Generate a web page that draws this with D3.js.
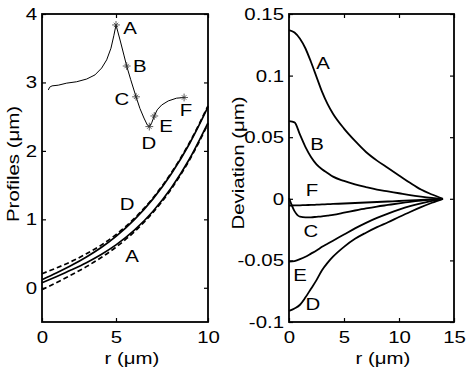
<!DOCTYPE html>
<html><head><meta charset="utf-8">
<script src="https://cdn.jsdelivr.net/npm/d3@7"></script>
<style>
body{margin:0;background:#fff}
text{font-family:"Liberation Sans",Arial,Helvetica,sans-serif;fill:#000}
</style></head><body>
<svg id="fig" width="474" height="370"></svg>
<script>
// left panel: profiles
var profR = [0, 1, 2, 3, 4, 5, 6, 7, 8, 9, 10];
var profDsolid = [0.117, 0.219, 0.328, 0.45, 0.588, 0.752, 0.996, 1.295, 1.663, 2.108, 2.642];
var profAsolid = [0.073, 0.166, 0.263, 0.367, 0.486, 0.626, 0.841, 1.114, 1.457, 1.885, 2.409];
var profDdash = [0.205, 0.292, 0.386, 0.497, 0.623, 0.777, 1.014, 1.31, 1.678, 2.123, 2.657];
var profAdash = [-0.029, 0.078, 0.19, 0.309, 0.442, 0.594, 0.819, 1.098, 1.442, 1.87, 2.394];

// inset curve with marked points
var insetR = [0.43, 0.51, 0.68, 1.10, 1.67, 2.34, 3.02, 3.58, 4.03, 4.37, 4.66, 4.86, 5.0, 5.22, 5.43, 5.58, 5.80, 6.09, 6.30, 6.52, 6.70, 6.81, 6.94, 7.08, 7.24, 7.48, 7.84, 8.29, 8.70];
var insetZ = [2.89, 2.93, 2.95, 2.96, 2.99, 3.01, 3.05, 3.11, 3.21, 3.33, 3.50, 3.69, 3.84, 3.62, 3.40, 3.24, 3.04, 2.79, 2.62, 2.48, 2.38, 2.355, 2.41, 2.51, 2.60, 2.67, 2.73, 2.77, 2.78];
var markNames = ["A", "B", "C", "D", "E", "F"];
var markR = [5.0, 5.58, 6.09, 6.81, 7.08, 8.70];
var markZ = [3.84, 3.24, 2.79, 2.355, 2.51, 2.78];

// right panel: deviations
var devR = [0, 0.5, 1, 1.5, 2, 2.5, 3, 3.5, 4, 5, 6, 7, 8, 9, 10, 11, 12, 13, 14];
var devA = [0.137, 0.135, 0.130, 0.122, 0.111, 0.099, 0.087, 0.077, 0.069, 0.057, 0.047, 0.038, 0.031, 0.025, 0.019, 0.013, 0.0075, 0.0035, 0];
var devB = [0.063, 0.062, 0.052, 0.042, 0.034, 0.028, 0.024, 0.021, 0.018, 0.0145, 0.0117, 0.0095, 0.0075, 0.006, 0.0045, 0.003, 0.0018, 0.0008, 0];
var devC = [0.0005, -0.010, -0.0145, -0.015, -0.015, -0.0146, -0.0142, -0.0136, -0.013, -0.0113, -0.0095, -0.0078, -0.0063, -0.005, -0.0037, -0.0025, -0.0015, -0.0007, 0];
var devD = [-0.091, -0.089, -0.086, -0.080, -0.073, -0.066, -0.058, -0.052, -0.047, -0.039, -0.0325, -0.0275, -0.023, -0.019, -0.0148, -0.0107, -0.0068, -0.0032, 0];
var devE = [-0.051, -0.0505, -0.049, -0.047, -0.0445, -0.042, -0.039, -0.0365, -0.034, -0.029, -0.024, -0.0195, -0.0155, -0.012, -0.0088, -0.006, -0.0037, -0.0017, 0];
var devF = [-0.0055, -0.0054, -0.0053, -0.0051, -0.005, -0.0048, -0.0046, -0.0044, -0.0042, -0.0038, -0.0034, -0.003, -0.0026, -0.0022, -0.0018, -0.0013, -0.0009, -0.0005, 0];

// tick values
var leftXTicks = [0, 5, 10], leftYTicks = [0, 1, 2, 3, 4];
var rightXTicks = [0, 5, 10, 15], rightYTicks = [-0.1, -0.05, 0, 0.05, 0.1, 0.15];

var svg = d3.select("#fig");
svg.append("rect").attr("width", 474).attr("height", 370).attr("fill", "#fff");

// left x axis of the original is not evenly spaced, so a piecewise scale
var xL = d3.scaleLinear().domain([0, 5, 10]).range([42, 116, 208]);
var yL = d3.scaleLinear().domain([-0.5, 4]).range([322, 14]);
var xR = d3.scaleLinear().domain([0, 15]).range([289, 454]);
var yR = d3.scaleLinear().domain([-0.1, 0.15]).range([322, 14]);

function drawAxes(x, y, xt, yt) {
  var r = x.range(), x0 = r[0], x1 = r[r.length - 1];
  var y0 = y.range()[0], y1 = y.range()[1];
  var fmt = function(d) { return String(d); };
  var g = svg.append("g");
  g.append("g").attr("transform", "translate(0," + y0 + ")")
    .call(d3.axisBottom(x).tickValues(xt).tickSizeInner(-4).tickSizeOuter(0).tickPadding(9).tickFormat(fmt));
  g.append("g").attr("transform", "translate(0," + y1 + ")")
    .call(d3.axisTop(x).tickValues(xt).tickSizeInner(-4).tickSizeOuter(0).tickFormat(""));
  g.append("g").attr("transform", "translate(" + x0 + ",0)")
    .call(d3.axisLeft(y).tickValues(yt).tickSizeInner(-4).tickSizeOuter(0).tickPadding(5).tickFormat(fmt));
  g.append("g").attr("transform", "translate(" + x1 + ",0)")
    .call(d3.axisRight(y).tickValues(yt).tickSizeInner(-4).tickSizeOuter(0).tickFormat(""));
  g.selectAll(".domain").remove();
  g.selectAll(".tick line").attr("stroke", "#000").attr("stroke-width", 1.2);
  g.selectAll(".tick text").attr("font-size", 17).attr("fill", "#000");
  g.selectAll("g").attr("font-family", null);
  svg.append("rect").attr("x", x0).attr("y", y1).attr("width", x1 - x0).attr("height", y0 - y1)
    .attr("fill", "none").attr("stroke", "#000").attr("stroke-width", 1.8);
}

function curve(x, y, xs, ys, w, dash, c) {
  var line = d3.line().x(function(d, i) { return x(xs[i]); }).y(function(d) { return y(d); }).curve(c || d3.curveMonotoneX);
  svg.append("path").attr("d", line(ys)).attr("fill", "none").attr("stroke", "#000")
    .attr("stroke-width", w).attr("stroke-dasharray", dash || null);
}

function label(x, y, t, px, py) {
  svg.append("text").attr("x", x(px)).attr("y", y(py)).attr("dy", "0.36em")
    .attr("text-anchor", "middle").attr("font-size", 17).text(t);
}

// ---- left panel
curve(xL, yL, profR, profDdash, 1.7, "5,3");
curve(xL, yL, profR, profAdash, 1.7, "5,3");
curve(xL, yL, profR, profDsolid, 1.7);
curve(xL, yL, profR, profAsolid, 1.7);
curve(xL, yL, insetR, insetZ, 1, null, d3.curveLinear);

var star = svg.append("g").attr("stroke", "#333").attr("stroke-width", 0.8).attr("fill", "none");
markR.forEach(function(r, i) {
  var t = "translate(" + xL(r) + "," + yL(markZ[i]) + ")";
  star.append("path").attr("transform", t).attr("d", d3.symbol(d3.symbolPlus, 22)());
  star.append("path").attr("transform", t).attr("d", d3.symbol(d3.symbolTimes, 14)());
});

// inset point labels and profile labels (data coords)
var leftLabels = [["A", 5.76, 3.80], ["B", 6.30, 3.24], ["C", 5.32, 2.76], ["D", 6.79, 2.12],
  ["E", 7.72, 2.365], ["F", 8.80, 2.60], ["D", 5.60, 1.23], ["A", 5.87, 0.47]];
leftLabels.forEach(function(l) { label(xL, yL, l[0], l[1], l[2]); });

drawAxes(xL, yL, leftXTicks, leftYTicks);

// ---- right panel
[devA, devB, devC, devD, devE, devF].forEach(function(s) { curve(xR, yR, devR, s, 1.8); });
var rightLabels = [["A", 3.09, 0.110], ["B", 2.55, 0.0446], ["F", 2.09, 0.0073],
  ["C", 2.0, -0.026], ["E", 1.0, -0.0617], ["D", 2.18, -0.0852]];
rightLabels.forEach(function(l) { label(xR, yR, l[0], l[1], l[2]); });

drawAxes(xR, yR, rightXTicks, rightYTicks);

// axis titles
svg.append("text").attr("x", 132).attr("y", 364).attr("text-anchor", "middle").attr("font-size", 17).text("r (\u03bcm)");
svg.append("text").attr("x", 383).attr("y", 364).attr("text-anchor", "middle").attr("font-size", 17).text("r (\u03bcm)");
svg.append("text").attr("transform", "translate(19,164) rotate(-90)").attr("text-anchor", "middle").attr("font-size", 17).text("Profiles (\u03bcm)");
svg.append("text").attr("transform", "translate(244,163) rotate(-90)").attr("text-anchor", "middle").attr("font-size", 17).text("Deviation (\u03bcm)");

// the original's lettering runs wider than Liberation Sans at the same height
svg.selectAll("text").each(function() {
  var w = this.getComputedTextLength();
  d3.select(this).attr("textLength", w * 1.2).attr("lengthAdjust", "spacingAndGlyphs");
});
</script></body></html>
